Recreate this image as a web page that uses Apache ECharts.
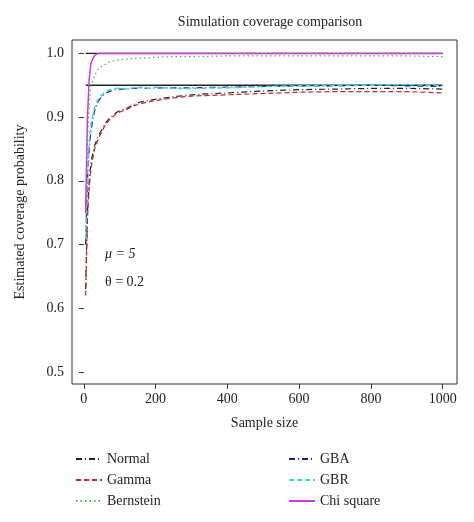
<!DOCTYPE html>
<html><head><meta charset="utf-8">
<script src="https://cdn.jsdelivr.net/npm/echarts@6/dist/echarts.min.js"></script>
<style>html,body{margin:0;padding:0;background:#fff}#c{width:474px;height:522px}</style>
</head><body><div id="c"></div>
<script>
const sizes = [5,10,15,20,30,40,50,60,70,80,90,100,120,140,160,180,200,250,300,400,500,600,700,800,900,1000];
const normal = [0.63,0.75,0.8,0.83,0.855,0.87,0.88,0.89,0.897,0.902,0.907,0.91,0.914,0.92,0.924,0.926,0.928,0.932,0.935,0.938,0.941,0.943,0.944,0.945,0.945,0.944];
const gamma = [0.62,0.74,0.79,0.82,0.85,0.865,0.877,0.888,0.895,0.9,0.905,0.908,0.912,0.918,0.921,0.924,0.926,0.93,0.933,0.935,0.937,0.939,0.94,0.94,0.94,0.938];
const bernstein = [0.75,0.86,0.92,0.95,0.965,0.975,0.98,0.983,0.986,0.988,0.989,0.99,0.991,0.992,0.993,0.993,0.994,0.995,0.995,0.996,0.996,0.996,0.996,0.996,0.996,0.995];
const gba = [0.7,0.8,0.85,0.88,0.91,0.925,0.932,0.937,0.94,0.942,0.943,0.944,0.944,0.945,0.946,0.945,0.946,0.946,0.946,0.947,0.948,0.949,0.949,0.95,0.949,0.948];
const gbr = [0.71,0.81,0.86,0.89,0.915,0.928,0.935,0.94,0.942,0.944,0.945,0.946,0.944,0.946,0.947,0.945,0.947,0.945,0.945,0.946,0.948,0.949,0.95,0.95,0.951,0.949];
const chi = [0.75,0.9,0.96,0.985,0.997,1,1,1,1,1,1,1,1,1,1,1,1,1,1,1,1,1,1,1,1,1];
const refLevels = [1.0, 0.95];
const xTicks = [0,200,400,600,800,1000];
const yTicks = [0.5,0.6,0.7,0.8,0.9,1.0];

const font = 'Liberation Serif';
const pts = a => sizes.map((s,i)=>[s,a[i]]);
function ser(name, data, color, type, width){
  return {name, type:'line', data:pts(data), showSymbol:false, symbol:'none', z: 3,
    lineStyle:{color, type, width: width||1.2}, itemStyle:{color}};
}
const series = [
  ser('Normal', normal, '#222', [6,3,1,3]),
  ser('Gamma', gamma, '#c0282d', [5,3]),
  ser('Bernstein', bernstein, '#4caf50', [1.5,3]),
  ser('GBA', gba, '#1a237e', [6,3,1,3]),
  ser('GBR', gbr, '#3fd3e0', [5,3], 1.5),
  ser('Chi square', chi, '#c83ed0', 'solid', 1.5),
];
refLevels.forEach(v => series.push({type:'line', data:[[5,v],[1000,v]], showSymbol:false, symbol:'none', silent:true, z:2, lineStyle:{color:'#222', width:1.3}}));

const legendCommon = {orient:'vertical', itemWidth:26, itemHeight:10, itemGap:7,
  itemStyle:{color:'transparent', borderWidth:0, opacity:0},
  textStyle:{fontFamily:font, fontSize:14, color:'#222'}};
const opt = {
  animation:false,
  title:{text:'Simulation coverage comparison', left:265, top:10, textAlign:'center', textStyle:{fontFamily:font, fontSize:14, fontWeight:'normal', color:'#222'}},
  grid:{left:72, right:17, top:40, bottom:138, show:true, borderColor:'#333', borderWidth:1},
  xAxis:{type:'value', min:-33, max:1040, name:'Sample size', nameLocation:'middle', nameGap:32,
    nameTextStyle:{fontFamily:font, fontSize:14, color:'#222'},
    axisLine:{show:false}, splitLine:{show:false},
    axisTick:{show:true, inside:false, length:5, customValues:xTicks, lineStyle:{color:'#333'}},
    axisLabel:{customValues:xTicks, formatter:v=>String(v), fontFamily:font, fontSize:14, color:'#222', margin:8}},
  yAxis:{type:'value', min:0.481, max:1.021, name:'Estimated coverage probability', nameLocation:'middle', nameGap:45,
    nameTextStyle:{fontFamily:font, fontSize:14, color:'#222'},
    axisLine:{show:false}, splitLine:{show:false},
    axisTick:{show:true, inside:false, length:5, customValues:yTicks, lineStyle:{color:'#333'}},
    axisLabel:{customValues:yTicks, formatter:v=>v.toFixed(1), fontFamily:font, fontSize:14, color:'#222', margin:8}},
  legend:[
    Object.assign({left:70, top:447, data:['Normal','Gamma','Bernstein']}, legendCommon),
    Object.assign({left:283, top:447, data:['GBA','GBR','Chi square']}, legendCommon)
  ],
  graphic:[
    {type:'text', left:105, top:247, style:{text:'μ = 5', font:'italic 14px '+font, fill:'#222'}},
    {type:'text', left:105, top:275, style:{text:'θ = 0.2', font:'14px '+font, fill:'#222'}}
  ],
  series
};
echarts.init(document.getElementById('c')).setOption(opt);
</script></body></html>
